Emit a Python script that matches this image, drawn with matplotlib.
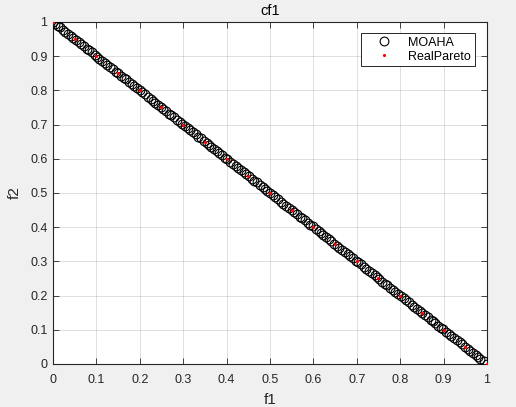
import numpy as np
import matplotlib
matplotlib.use('Agg')
import matplotlib.pyplot as plt

# MOAHA solutions
moaha_f1 = [0.000, 0.005, 0.011, 0.016, 0.023, 0.028, 0.035, 0.041, 0.046, 0.053, 0.059, 0.064, 0.071, 0.078, 0.083,
            0.089, 0.096, 0.101, 0.107, 0.114, 0.120, 0.125, 0.132, 0.138, 0.145, 0.150, 0.157, 0.163, 0.168, 0.175,
            0.182, 0.187, 0.193, 0.200, 0.206, 0.211, 0.218, 0.225, 0.230, 0.236, 0.243, 0.249, 0.254, 0.261, 0.268,
            0.273, 0.279, 0.286, 0.292, 0.297, 0.304, 0.311, 0.316, 0.322, 0.329, 0.335, 0.340, 0.347, 0.354, 0.359,
            0.365, 0.372, 0.378, 0.383, 0.390, 0.397, 0.402, 0.408, 0.415, 0.421, 0.426, 0.433, 0.440, 0.445, 0.451,
            0.458, 0.464, 0.469, 0.476, 0.483, 0.488, 0.494, 0.501, 0.507, 0.512, 0.519, 0.526, 0.531, 0.537, 0.544,
            0.550, 0.555, 0.562, 0.569, 0.574, 0.580, 0.587, 0.593, 0.598, 0.605, 0.612, 0.617, 0.623, 0.630, 0.636,
            0.641, 0.648, 0.655, 0.660, 0.666, 0.673, 0.679, 0.684, 0.691, 0.698, 0.703, 0.709, 0.716, 0.722, 0.727,
            0.734, 0.741, 0.746, 0.752, 0.759, 0.765, 0.770, 0.777, 0.784, 0.789, 0.795, 0.802, 0.808, 0.813, 0.820,
            0.827, 0.832, 0.838, 0.845, 0.851, 0.856, 0.863, 0.870, 0.875, 0.881, 0.888, 0.894, 0.899, 0.906, 0.913,
            0.918, 0.924, 0.931, 0.937, 0.942, 0.949, 0.956, 0.961, 0.967, 0.974, 0.980, 0.985, 0.992, 1.000]
moaha_f2 = [1.000, 0.995, 0.989, 0.984, 0.977, 0.972, 0.965, 0.959, 0.954, 0.947, 0.941, 0.936, 0.929, 0.922, 0.917,
            0.911, 0.904, 0.899, 0.893, 0.886, 0.880, 0.875, 0.868, 0.862, 0.855, 0.850, 0.843, 0.837, 0.832, 0.825,
            0.818, 0.813, 0.807, 0.800, 0.794, 0.789, 0.782, 0.775, 0.770, 0.764, 0.757, 0.751, 0.746, 0.739, 0.732,
            0.727, 0.721, 0.714, 0.708, 0.703, 0.696, 0.689, 0.684, 0.678, 0.671, 0.665, 0.660, 0.653, 0.646, 0.641,
            0.635, 0.628, 0.622, 0.617, 0.610, 0.603, 0.598, 0.592, 0.585, 0.579, 0.574, 0.567, 0.560, 0.555, 0.549,
            0.542, 0.536, 0.531, 0.524, 0.517, 0.512, 0.506, 0.499, 0.493, 0.488, 0.481, 0.474, 0.469, 0.463, 0.456,
            0.450, 0.445, 0.438, 0.431, 0.426, 0.420, 0.413, 0.407, 0.402, 0.395, 0.388, 0.383, 0.377, 0.370, 0.364,
            0.359, 0.352, 0.345, 0.340, 0.334, 0.327, 0.321, 0.316, 0.309, 0.302, 0.297, 0.291, 0.284, 0.278, 0.273,
            0.266, 0.259, 0.254, 0.248, 0.241, 0.235, 0.230, 0.223, 0.216, 0.211, 0.205, 0.198, 0.192, 0.187, 0.180,
            0.173, 0.168, 0.162, 0.155, 0.149, 0.144, 0.137, 0.130, 0.125, 0.119, 0.112, 0.106, 0.101, 0.094, 0.087,
            0.082, 0.076, 0.069, 0.063, 0.058, 0.051, 0.044, 0.039, 0.033, 0.026, 0.020, 0.015, 0.008, 0.000]

# true Pareto front samples
real_f1 = [0.00, 0.05, 0.10, 0.15, 0.20, 0.25, 0.30, 0.35, 0.40, 0.45, 0.50,
           0.55, 0.60, 0.65, 0.70, 0.75, 0.80, 0.85, 0.90, 0.95, 1.00]
real_f2 = [1.00, 0.95, 0.90, 0.85, 0.80, 0.75, 0.70, 0.65, 0.60, 0.55, 0.50,
           0.45, 0.40, 0.35, 0.30, 0.25, 0.20, 0.15, 0.10, 0.05, 0.00]

ticks = [0, 0.1, 0.2, 0.3, 0.4, 0.5, 0.6, 0.7, 0.8, 0.9, 1]
tick_labels = ['0', '0.1', '0.2', '0.3', '0.4', '0.5', '0.6', '0.7', '0.8', '0.9', '1']

plt.rcParams['font.family'] = ['Liberation Sans', 'DejaVu Sans']

fig = plt.figure(figsize=(5.16, 4.07), dpi=100, facecolor='#f0f0f0')
ax = fig.add_axes([0.1027, 0.1057, 0.8411, 0.8403])
ax.set_facecolor('white')

ax.plot(moaha_f1, moaha_f2, 'o', mfc='none', mec='black', ms=6.3, mew=0.8, label='MOAHA', zorder=3)
ax.plot(real_f1, real_f2, '.', color='red', ms=2.5, label='RealPareto', zorder=4)

ax.set_xlim(0, 1)
ax.set_ylim(0, 1)
ax.set_xticks(ticks)
ax.set_xticklabels(tick_labels)
ax.set_yticks(ticks)
ax.set_yticklabels(tick_labels)
ax.grid(True, color='#262626', alpha=0.15, linewidth=0.7)
ax.set_axisbelow(True)
ax.tick_params(direction='in', length=4, width=0.6, colors='#262626', labelsize=9,
               top=True, right=True, pad=4)
ax.tick_params(axis='x', pad=7)
for s in ax.spines.values():
    s.set_color('#262626')
    s.set_linewidth(0.8)

ax.set_title('cf1', fontsize=10.5, color='black', pad=5)
ax.set_xlabel('f1', fontsize=11, color='#262626', labelpad=5)
ax.set_ylabel('f2', fontsize=11, color='#262626', labelpad=6)

leg = ax.legend(loc='upper right', bbox_to_anchor=(0.972, 0.968), borderaxespad=0, fontsize=9,
                frameon=True, fancybox=False, edgecolor='#262626', framealpha=1, borderpad=0.3,
                handletextpad=0.45, handlelength=3.0, labelspacing=0.15)
leg.get_frame().set_linewidth(0.7)

fig.savefig('out.png', dpi=100, facecolor=fig.get_facecolor())
